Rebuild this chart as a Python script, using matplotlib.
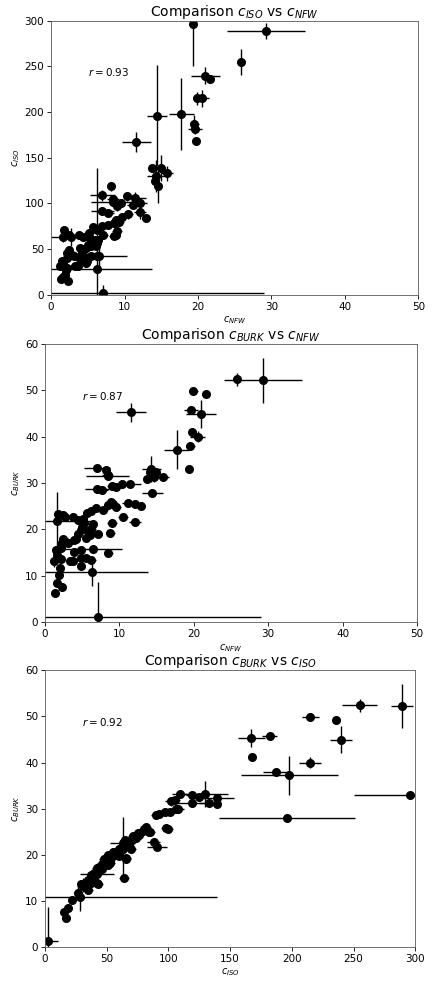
import numpy as np
import matplotlib
matplotlib.use('Agg')
import matplotlib.pyplot as plt

# Concentrations per galaxy and their errors: NFW, ISO and Burkert fits
c_nfw = [29.3, 19.3, 25.8, 21.0, 21.7, 19.9, 20.5, 17.7, 14.4, 19.5, 19.6, 19.8, 11.6,
         13.7, 14.9, 14.3, 14.1, 14.6, 15.8, 8.2, 7.0, 7.0, 8.4,
         10.4, 11.4, 9.0, 9.5, 8.4, 7.7, 11.1, 12.1, 12.9, 12.1, 10.5, 9.6, 8.9, 9.2,
         8.5, 7.8, 6.9, 5.7, 6.2, 9.0, 8.5, 8.8, 7.1, 6.4, 5.8, 6.1,
         1.6, 1.8, 2.7, 2.4, 3.8, 4.4, 5.2, 5.1,
         1.4, 2.3, 1.6, 1.9, 2.0, 1.2, 2.2, 1.5, 1.6, 2.1, 2.4, 2.1, 2.8, 3.1, 3.3,
         3.7, 3.9, 3.9, 4.2, 4.4, 4.8, 5.0, 4.9, 4.9, 5.5, 6.2, 6.5, 4.8, 5.5, 6.2,
         6.3, 7.1]
c_nfw_err = [5.3, 0.4, 0.4, 2.0, 0.3, 0.6, 1.0, 1.7, 1.4, 0.6, 0.9, 0.4, 2.0,
             0.5, 0.6, 1.3, 0.4, 0.5, 0.8, 0.5, 1.7, 1.6, 2.9,
             0.6, 1.5, 0.7, 0.6, 0.8, 0.8, 0.7, 1.0, 0.5, 0.8, 0.7, 0.6, 0.6, 0.7,
             0.6, 0.7, 0.6, 0.6, 0.6, 0.7, 0.6, 0.6, 0.6, 0.6, 0.5, 0.5,
             5.0, 0.4, 0.6, 0.5, 0.6, 0.5, 0.5, 0.6,
             0.3, 0.3, 0.3, 0.3, 0.3, 0.3, 0.4, 0.3, 0.4, 0.4, 0.4, 0.4, 0.5, 0.5, 0.5,
             0.5, 0.5, 0.5, 0.5, 0.5, 0.5, 0.5, 0.5, 0.5, 0.5, 0.6, 3.8, 0.5, 0.5, 0.6,
             7.5, 21.9]
c_iso = [289, 296, 255, 240, 236, 215, 215, 198, 196, 187, 182, 168, 167,
         139, 139, 130, 125, 119, 133, 119, 109, 92, 102,
         108, 106, 97, 101, 105, 90, 98, 100, 84, 91, 88, 85, 82, 80,
         79, 76, 75, 74, 71, 70, 64, 66, 66, 60, 60, 53,
         63, 71, 63, 65, 65, 63, 63, 68,
         17, 15, 19, 22, 27, 31, 29, 37, 35, 46, 49, 40, 44, 42, 32,
         31, 39, 51, 46, 48, 51, 55, 40, 37, 42, 43, 42, 35, 53, 57,
         28, 2]
c_iso_err = [9, 46, 14, 9, 2, 7, 9, 39, 55, 10, 6, 3, 11,
             3, 14, 18, 5, 18, 8, 5, 6, 4, 5,
             5, 6, 5, 4, 4, 4, 4, 4, 3, 8, 5, 4, 4, 4,
             4, 4, 4, 4, 4, 4, 4, 4, 4, 4, 4, 4,
             5, 4, 10, 4, 4, 4, 4, 4,
             3, 3, 3, 3, 3, 3, 3, 3, 3, 3, 3, 3, 4, 4, 3,
             3, 4, 4, 4, 4, 4, 4, 4, 4, 4, 4, 14, 4, 4, 4,
             111, 8.5]
c_burk = [52.2, 33.0, 52.4, 45.0, 49.2, 49.8, 40.0, 37.2, 27.9, 38.0, 45.7, 41.1, 45.3,
          31.0, 32.3, 33.1, 32.5, 31.3, 31.3, 32.9, 33.2, 28.8, 31.6,
          29.9, 29.9, 29.3, 29.2, 31.8, 28.5, 25.7, 25.6, 25.0, 21.6, 22.7, 24.9, 26.0, 25.6,
          25.2, 24.2, 24.6, 23.5, 24.0, 21.3, 15.0, 19.2, 19.1, 21.1, 19.7, 18.9,
          21.8, 23.4, 22.6, 23.1, 22.6, 22.0, 21.3, 22.3,
          6.2, 7.5, 8.4, 10.1, 11.7, 13.3, 13.7, 15.5, 14.5, 16.9, 18.0, 16.0, 17.3, 17.1, 13.2,
          13.2, 15.1, 17.7, 18.0, 19.1, 19.8, 20.5, 15.5, 13.9, 13.9, 13.5, 15.8, 12.2, 18.2, 20.0,
          10.8, 1.2]
c_burk_err = [4.8, 0.5, 1.4, 3.0, 0.5, 0.6, 1.2, 4.2, 0.9, 0.5, 0.5, 0.6, 2.0,
              0.5, 0.8, 2.8, 0.6, 1.0, 0.8, 0.6, 0.6, 0.6, 1.0,
              0.5, 0.6, 0.6, 0.5, 0.6, 0.5, 0.6, 0.6, 0.5, 0.6, 0.6, 0.6, 0.6, 0.6,
              0.6, 0.7, 0.6, 0.6, 0.6, 0.6, 0.6, 0.6, 0.6, 0.7, 0.6, 0.6,
              6.3, 0.7, 0.8, 0.7, 0.7, 0.7, 0.6, 0.7,
              0.7, 0.7, 0.7, 0.7, 1.5, 1.5, 0.7, 0.8, 0.7, 0.7, 0.7, 0.7, 0.7, 0.7, 0.7,
              0.7, 0.7, 0.7, 0.7, 0.7, 0.7, 0.7, 0.7, 0.7, 0.7, 0.7, 0.8, 0.7, 0.7, 0.7,
              3.0, 7.5]

r_values = [0.93, 0.87, 0.92]

# (x, xerr, y, yerr, xlabel, ylabel, title, xlim, ylim)
panels = [
    (c_nfw, c_nfw_err, c_iso, c_iso_err, r'$c_{NFW}$', r'$c_{ISO}$',
     r'Comparison $c_{ISO}$ vs $c_{NFW}$', 50, 300),
    (c_nfw, c_nfw_err, c_burk, c_burk_err, r'$c_{NFW}$', r'$c_{BURK}$',
     r'Comparison $c_{BURK}$ vs $c_{NFW}$', 50, 60),
    (c_iso, c_iso_err, c_burk, c_burk_err, r'$c_{ISO}$', r'$c_{BURK}$',
     r'Comparison $c_{BURK}$ vs $c_{ISO}$', 300, 60),
]

# axes boxes in figure fraction, placed by hand
boxes = [[0.118, 0.701, 0.848, 0.278],
         [0.104, 0.369, 0.859, 0.282],
         [0.104, 0.040, 0.855, 0.280]]

fig = plt.figure(figsize=(4.33, 9.86), dpi=100)

for (x, xe, y, ye, xl, yl, title, xmax, ymax), box, r in zip(panels, boxes, r_values):
    ax = fig.add_axes(box)
    ax.errorbar(x, y, xerr=xe, yerr=ye, fmt='o', color='k', ms=5.5,
                elinewidth=1, capsize=0)
    ax.set_xlim(0, xmax)
    ax.set_ylim(0, ymax)
    ax.set_title(title, fontsize=10, pad=3)
    ax.set_xlabel(xl, fontsize=7, labelpad=2)
    ax.set_ylabel(yl, fontsize=7, labelpad=2)
    ax.tick_params(labelsize=7.5, length=3, width=0.6, pad=2)
    for s in ax.spines.values():
        s.set_linewidth(0.6)
        s.set_color('0.35')
    ax.text(0.1 * xmax, 0.8 * ymax, r'$r = %.2f$' % r, fontsize=7.5)

fig.savefig('out.png', dpi=100)
